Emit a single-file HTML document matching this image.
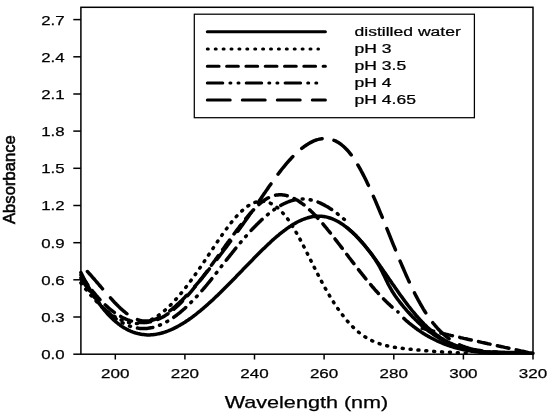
<!DOCTYPE html>
<html><head><meta charset="utf-8"><title>Absorbance vs Wavelength</title>
<style>html,body{margin:0;padding:0;background:#fff}body{width:550px;height:414px;overflow:hidden}</style>
</head><body>
<svg width="550" height="414" viewBox="0 0 550 414" style="display:block">
<rect width="550" height="414" fill="#fff"/>
<defs><clipPath id="c"><rect x="78.9" y="7.3" width="456.1" height="347.9"/></clipPath></defs>
<g clip-path="url(#c)">
<path d="M80.9,282.9 L81.9,284.3 L82.9,285.6 L83.9,286.9 L84.9,288.1 L85.9,289.4 L86.9,290.6 L87.9,291.8 L88.9,293.0 L89.9,294.2 L90.9,295.3 L91.9,296.5 L92.9,297.6 L93.9,298.7 L94.9,299.8 L95.9,300.8 L96.9,301.9 L97.9,302.9 L98.9,303.9 L99.9,304.9 L100.9,305.8 L101.9,306.7 L102.9,307.7 L103.9,308.5 L104.9,309.4 L105.9,310.3 L106.9,311.1 L107.9,311.9 L108.9,312.6 L109.9,313.4 L110.9,314.1 L111.9,314.8 L112.9,315.5 L113.9,316.1 L114.9,316.7 L115.9,317.3 L116.9,317.9 L117.9,318.5 L118.9,319.0 L119.9,319.5 L120.9,319.9 L121.9,320.4 L122.9,320.8 L123.9,321.1 L124.9,321.5 L125.9,321.8 L126.9,322.1 L127.9,322.4 L128.9,322.6 L129.9,322.8 L130.9,323.0 L131.9,323.2 L132.9,323.3 L133.9,323.4 L134.9,323.4 L135.9,323.4 L136.9,323.4 L137.9,323.4 L138.9,323.3 L139.9,323.2 L140.9,323.1 L141.9,322.9 L142.9,322.7 L143.9,322.5 L144.9,322.2 L145.9,321.9 L146.9,321.6 L147.9,321.2 L148.9,320.8 L149.9,320.4 L150.9,319.9 L151.9,319.4 L152.9,318.9 L153.9,318.3 L154.9,317.7 L155.9,317.1 L156.9,316.5 L157.9,315.8 L158.9,315.1 L159.9,314.4 L160.9,313.6 L161.9,312.8 L162.9,312.0 L163.9,311.2 L164.9,310.3 L165.9,309.4 L166.9,308.5 L167.9,307.6 L168.9,306.6 L169.9,305.7 L170.9,304.7 L171.9,303.6 L172.9,302.6 L173.9,301.5 L174.9,300.4 L175.9,299.3 L176.9,298.2 L177.9,297.0 L178.9,295.9 L179.9,294.7 L180.9,293.5 L181.9,292.3 L182.9,291.0 L183.9,289.8 L184.9,288.5 L185.9,287.2 L186.9,285.9 L187.9,284.6 L188.9,283.3 L189.9,282.0 L190.9,280.6 L191.9,279.2 L192.9,277.9 L193.9,276.5 L194.9,275.1 L195.9,273.7 L196.9,272.2 L197.9,270.8 L198.9,269.4 L199.9,267.9 L200.9,266.5 L201.9,265.0 L202.9,263.5 L203.9,262.0 L204.9,260.5 L205.9,259.0 L206.9,257.5 L207.9,256.0 L208.9,254.5 L209.9,253.0 L210.9,251.5 L211.9,250.0 L212.9,248.5 L213.9,247.0 L214.9,245.5 L215.9,244.0 L216.9,242.5 L217.9,241.0 L218.9,239.6 L219.9,238.1 L220.9,236.7 L221.9,235.2 L222.9,233.8 L223.9,232.4 L224.9,231.0 L225.9,229.6 L226.9,228.3 L227.9,226.9 L228.9,225.6 L229.9,224.3 L230.9,223.0 L231.9,221.8 L232.9,220.6 L233.9,219.4 L234.9,218.2 L235.9,217.0 L236.9,215.9 L237.9,214.9 L238.9,213.8 L239.9,212.8 L240.9,211.8 L241.9,210.9 L242.9,210.0 L243.9,209.1 L244.9,208.3 L245.9,207.5 L246.9,206.7 L247.9,206.0 L248.9,205.4 L249.9,204.8 L250.9,204.2 L251.9,203.7 L252.9,203.2 L253.9,202.8 L254.9,202.4 L255.9,202.1 L256.9,201.8 L257.9,201.6 L258.9,201.4 L259.9,201.3 L260.9,201.3 L261.9,201.2 L262.9,201.3 L263.9,201.4 L264.9,201.5 L265.9,201.7 L266.9,202.0 L267.9,202.3 L268.9,202.6 L269.9,203.0 L270.9,203.5 L271.9,204.0 L272.9,204.5 L273.9,205.2 L274.9,205.8 L275.9,206.5 L276.9,207.3 L277.9,208.1 L278.9,209.0 L279.9,209.9 L280.9,210.9 L281.9,212.0 L282.9,213.1 L283.9,214.2 L284.9,215.4 L285.9,216.6 L286.9,217.9 L287.9,219.3 L288.9,220.7 L289.9,222.2 L290.9,223.7 L291.9,225.2 L292.9,226.8 L293.9,228.5 L294.9,230.1 L295.9,231.9 L296.9,233.6 L297.9,235.4 L298.9,237.2 L299.9,239.1 L300.9,240.9 L301.9,242.8 L302.9,244.7 L303.9,246.7 L304.9,248.6 L305.9,250.6 L306.9,252.6 L307.9,254.6 L308.9,256.5 L309.9,258.5 L310.9,260.6 L311.9,262.6 L312.9,264.6 L313.9,266.6 L314.9,268.5 L315.9,270.5 L316.9,272.5 L317.9,274.5 L318.9,276.4 L319.9,278.3 L320.9,280.2 L321.9,282.1 L322.9,284.0 L323.9,285.8 L324.9,287.6 L325.9,289.4 L326.9,291.1 L327.9,292.9 L328.9,294.6 L329.9,296.3 L330.9,297.9 L331.9,299.5 L332.9,301.1 L333.9,302.7 L334.9,304.2 L335.9,305.7 L336.9,307.2 L337.9,308.7 L338.9,310.1 L339.9,311.5 L340.9,312.9 L341.9,314.2 L342.9,315.5 L343.9,316.8 L344.9,318.1 L345.9,319.3 L346.9,320.5 L347.9,321.7 L348.9,322.8 L349.9,323.9 L350.9,325.0 L351.9,326.0 L352.9,327.0 L353.9,328.0 L354.9,328.9 L355.9,329.9 L356.9,330.7 L357.9,331.6 L358.9,332.4 L359.9,333.2 L360.9,334.0 L361.9,334.7 L362.9,335.4 L363.9,336.1 L364.9,336.8 L365.9,337.4 L366.9,338.0 L367.9,338.6 L368.9,339.1 L369.9,339.7 L370.9,340.2 L371.9,340.7 L372.9,341.1 L373.9,341.6 L374.9,342.0 L375.9,342.4 L376.9,342.8 L377.9,343.2 L378.9,343.5 L379.9,343.9 L380.9,344.2 L381.9,344.5 L382.9,344.8 L383.9,345.1 L384.9,345.3 L385.9,345.6 L386.9,345.8 L387.9,346.0 L388.9,346.3 L389.9,346.5 L390.9,346.7 L391.9,346.8 L392.9,347.0 L393.9,347.2 L394.9,347.3 L395.9,347.5 L396.9,347.6 L397.9,347.8 L398.9,347.9 L399.9,348.0 L400.9,348.2 L401.9,348.3 L402.9,348.4 L403.9,348.5 L404.9,348.7 L405.9,348.8 L406.9,348.9 L407.9,349.0 L408.9,349.1 L409.9,349.2 L410.9,349.3 L411.9,349.4 L412.9,349.5 L413.9,349.7 L414.9,349.8 L415.9,349.9 L416.9,350.0 L417.9,350.0 L418.9,350.1 L419.9,350.2 L420.9,350.3 L421.9,350.4 L422.9,350.5 L423.9,350.6 L424.9,350.7 L425.9,350.8 L426.9,350.8 L427.9,350.9 L428.9,351.0 L429.9,351.1 L430.9,351.2 L431.9,351.2 L432.9,351.3 L433.9,351.4 L434.9,351.4 L435.9,351.5 L436.9,351.6 L437.9,351.6 L438.9,351.7 L439.9,351.8 L440.9,351.8 L441.9,351.9 L442.9,352.0 L443.9,352.0 L444.9,352.1 L445.9,352.1 L446.9,352.2 L447.9,352.2 L448.9,352.3 L449.9,352.3 L450.9,352.4 L451.9,352.4 L452.9,352.5 L453.9,352.5 L454.9,352.5 L455.9,352.6 L456.9,352.6 L457.9,352.7 L458.9,352.7 L459.9,352.7 L460.9,352.8 L461.9,352.8 L462.9,352.8 L463.9,352.8 L464.9,352.9 L465.9,352.9 L466.9,352.9 L467.9,353.0 L468.9,353.0 L469.9,353.0 L470.0,353.0" fill="none" stroke="#000" stroke-width="3.5" stroke-linecap="round" stroke-linejoin="round" stroke-dasharray="1.0 6.9"/>
<path d="M80.9,277.9 L81.9,279.5 L82.9,281.1 L83.9,282.7 L84.9,284.2 L85.9,285.7 L86.9,287.1 L87.9,288.6 L88.9,290.0 L89.9,291.4 L90.9,292.8 L91.9,294.1 L92.9,295.4 L93.9,296.7 L94.9,298.0 L95.9,299.2 L96.9,300.5 L97.9,301.7 L98.9,302.8 L99.9,304.0 L100.9,305.1 L101.9,306.2 L102.9,307.2 L103.9,308.3 L104.9,309.3 L105.9,310.2 L106.9,311.2 L107.9,312.1 L108.9,313.0 L109.9,313.9 L110.9,314.8 L111.9,315.6 L112.9,316.4 L113.9,317.2 L114.9,318.0 L115.9,318.7 L116.9,319.4 L117.9,320.1 L118.9,320.7 L119.9,321.3 L120.9,321.9 L121.9,322.5 L122.9,323.0 L123.9,323.6 L124.9,324.1 L125.9,324.5 L126.9,325.0 L127.9,325.4 L128.9,325.8 L129.9,326.1 L130.9,326.5 L131.9,326.8 L132.9,327.1 L133.9,327.3 L134.9,327.6 L135.9,327.8 L136.9,328.0 L137.9,328.1 L138.9,328.3 L139.9,328.4 L140.9,328.4 L141.9,328.5 L142.9,328.5 L143.9,328.5 L144.9,328.5 L145.9,328.4 L146.9,328.4 L147.9,328.3 L148.9,328.1 L149.9,328.0 L150.9,327.8 L151.9,327.6 L152.9,327.4 L153.9,327.1 L154.9,326.8 L155.9,326.5 L156.9,326.2 L157.9,325.8 L158.9,325.5 L159.9,325.1 L160.9,324.6 L161.9,324.2 L162.9,323.7 L163.9,323.2 L164.9,322.7 L165.9,322.2 L166.9,321.6 L167.9,321.1 L168.9,320.5 L169.9,319.8 L170.9,319.2 L171.9,318.5 L172.9,317.9 L173.9,317.2 L174.9,316.4 L175.9,315.7 L176.9,315.0 L177.9,314.2 L178.9,313.4 L179.9,312.6 L180.9,311.7 L181.9,310.9 L182.9,310.0 L183.9,309.2 L184.9,308.3 L185.9,307.3 L186.9,306.4 L187.9,305.5 L188.9,304.5 L189.9,303.5 L190.9,302.5 L191.9,301.5 L192.9,300.5 L193.9,299.5 L194.9,298.4 L195.9,297.3 L196.9,296.3 L197.9,295.2 L198.9,294.1 L199.9,292.9 L200.9,291.8 L201.9,290.7 L202.9,289.5 L203.9,288.3 L204.9,287.2 L205.9,286.0 L206.9,284.8 L207.9,283.5 L208.9,282.3 L209.9,281.1 L210.9,279.9 L211.9,278.6 L212.9,277.3 L213.9,276.1 L214.9,274.8 L215.9,273.5 L216.9,272.3 L217.9,271.0 L218.9,269.7 L219.9,268.4 L220.9,267.1 L221.9,265.8 L222.9,264.6 L223.9,263.3 L224.9,262.0 L225.9,260.7 L226.9,259.4 L227.9,258.1 L228.9,256.9 L229.9,255.6 L230.9,254.3 L231.9,253.1 L232.9,251.8 L233.9,250.6 L234.9,249.3 L235.9,248.1 L236.9,246.9 L237.9,245.7 L238.9,244.5 L239.9,243.3 L240.9,242.1 L241.9,240.9 L242.9,239.7 L243.9,238.6 L244.9,237.4 L245.9,236.3 L246.9,235.1 L247.9,234.0 L248.9,232.9 L249.9,231.8 L250.9,230.7 L251.9,229.6 L252.9,228.6 L253.9,227.5 L254.9,226.5 L255.9,225.5 L256.9,224.4 L257.9,223.5 L258.9,222.5 L259.9,221.5 L260.9,220.6 L261.9,219.6 L262.9,218.7 L263.9,217.8 L264.9,216.9 L265.9,216.1 L266.9,215.2 L267.9,214.4 L268.9,213.6 L269.9,212.8 L270.9,212.0 L271.9,211.2 L272.9,210.5 L273.9,209.8 L274.9,209.1 L275.9,208.4 L276.9,207.7 L277.9,207.1 L278.9,206.5 L279.9,205.9 L280.9,205.3 L281.9,204.8 L282.9,204.2 L283.9,203.7 L284.9,203.3 L285.9,202.8 L286.9,202.4 L287.9,202.0 L288.9,201.6 L289.9,201.2 L290.9,200.9 L291.9,200.6 L292.9,200.3 L293.9,200.0 L294.9,199.8 L295.9,199.6 L296.9,199.4 L297.9,199.3 L298.9,199.2 L299.9,199.1 L300.9,199.0 L301.9,199.0 L302.9,199.0 L303.9,199.0 L304.9,199.1 L305.9,199.2 L306.9,199.3 L307.9,199.4 L308.9,199.6 L309.9,199.7 L310.9,200.0 L311.9,200.2 L312.9,200.5 L313.9,200.7 L314.9,201.0 L315.9,201.4 L316.9,201.7 L317.9,202.1 L318.9,202.5 L319.9,202.9 L320.9,203.4 L321.9,203.9 L322.9,204.4 L323.9,204.9 L324.9,205.4 L325.9,206.0 L326.9,206.5 L327.9,207.1 L328.9,207.7 L329.9,208.4 L330.9,209.0 L331.9,209.7 L332.9,210.4 L333.9,211.1 L334.9,211.8 L335.9,212.5 L336.9,213.3 L337.9,214.1 L338.9,214.9 L339.9,215.7 L340.9,216.5 L341.9,217.3 L342.9,218.2 L343.9,219.1 L344.9,219.9 L345.9,220.8 L346.9,221.7 L347.0,221.8" fill="none" stroke="#000" stroke-width="3.5" stroke-linecap="round" stroke-linejoin="round" stroke-dasharray="15.5 7.1 1.0 7.1 1.0 7.2"/>
<path d="M347.0,227.7 L348.0,228.5 L349.0,229.3 L350.0,230.2 L351.0,231.1 L352.0,232.0 L353.0,232.9 L354.0,233.9 L355.0,234.8 L356.0,235.8 L357.0,236.9 L358.0,237.9 L359.0,239.0 L360.0,240.1 L361.0,241.2 L362.0,242.3 L363.0,243.5 L364.0,244.7 L365.0,245.9 L366.0,247.1 L367.0,248.3 L368.0,249.6 L369.0,250.9 L370.0,252.1 L371.0,253.4 L372.0,254.8 L372.9,256.1 L373.8,257.5 L374.8,258.8 L375.7,260.2 L376.5,261.6 L377.4,263.0 L378.2,264.4 L379.1,265.8 L379.9,267.2 L380.6,268.6 L381.4,270.1 L382.1,271.5 L382.8,272.9 L383.5,274.4 L384.2,275.8 L384.9,277.3 L385.6,278.7 L386.3,280.2 L387.0,281.6 L387.7,283.1 L388.4,284.5 L389.2,286.0 L390.0,287.4 L390.8,288.8 L391.6,290.3 L392.5,291.7 L393.4,293.1 L394.3,294.5 L395.2,295.9 L396.2,297.3 L397.1,298.6 L398.2,300.0 L399.2,301.3 L400.2,302.7 L401.3,304.0 L402.4,305.3 L403.4,306.6 L404.5,307.9 L405.6,309.1 L406.6,310.4 L407.7,311.6 L408.8,312.8 L409.9,314.0 L411.1,315.2 L412.2,316.4 L413.3,317.5 L414.4,318.6 L415.5,319.7 L416.7,320.8 L417.8,321.9 L418.9,322.9 L420.0,324.0 L421.1,325.0 L422.3,325.9 L423.4,326.9 L424.5,327.8 L425.6,328.7 L426.8,329.6 L427.9,330.5 L429.0,331.3 L430.1,332.1 L431.3,332.9 L432.4,333.7 L433.5,334.5 L434.6,335.2 L435.7,335.9 L436.8,336.6 L437.9,337.3 L439.0,337.9 L440.1,338.6 L441.2,339.2 L442.3,339.8 L443.4,340.4 L444.5,340.9 L445.6,341.5 L446.7,342.0 L447.8,342.5 L448.9,343.0 L449.9,343.5 L451.0,343.9 L452.1,344.4 L453.2,344.8 L454.2,345.2 L455.3,345.6 L456.4,346.0 L457.4,346.4 L458.5,346.7 L459.5,347.1 L460.5,347.4 L461.6,347.7 L462.6,348.0 L463.6,348.3 L464.7,348.6 L465.7,348.8 L466.7,349.1 L467.7,349.3 L468.7,349.5 L469.7,349.7 L470.7,350.0 L471.8,350.1 L472.8,350.3 L473.8,350.5 L474.8,350.7 L475.8,350.8 L476.8,351.0 L477.8,351.1 L478.8,351.2 L479.8,351.3 L480.8,351.4 L481.8,351.5 L482.8,351.6 L483.8,351.7 L484.8,351.8 L485.8,351.9 L486.8,352.0 L487.8,352.0 L488.8,352.1 L489.8,352.1 L490.8,352.2 L491.8,352.2 L492.8,352.2 L493.8,352.3 L494.8,352.3 L495.8,352.3 L496.8,352.3 L497.8,352.4 L498.8,352.4 L499.8,352.4 L500.8,352.4 L501.8,352.4 L502.8,352.4 L503.8,352.4 L504.8,352.4" fill="none" stroke="#000" stroke-width="3.5" stroke-linecap="round" stroke-linejoin="round"/>
<path d="M80.9,275.1 L81.9,276.6 L82.9,278.1 L83.9,279.5 L84.9,280.9 L85.9,282.3 L86.9,283.7 L87.9,285.1 L88.9,286.4 L89.9,287.7 L90.9,289.0 L91.9,290.3 L92.9,291.5 L93.9,292.7 L94.9,293.9 L95.9,295.1 L96.9,296.2 L97.9,297.4 L98.9,298.5 L99.9,299.6 L100.9,300.6 L101.9,301.6 L102.9,302.6 L103.9,303.6 L104.9,304.6 L105.9,305.5 L106.9,306.4 L107.9,307.3 L108.9,308.2 L109.9,309.0 L110.9,309.8 L111.9,310.6 L112.9,311.4 L113.9,312.1 L114.9,312.8 L115.9,313.5 L116.9,314.2 L117.9,314.8 L118.9,315.5 L119.9,316.0 L120.9,316.6 L121.9,317.2 L122.9,317.7 L123.9,318.2 L124.9,318.6 L125.9,319.1 L126.9,319.5 L127.9,319.9 L128.9,320.2 L129.9,320.6 L130.9,320.9 L131.9,321.2 L132.9,321.4 L133.9,321.7 L134.9,321.9 L135.9,322.1 L136.9,322.2 L137.9,322.4 L138.9,322.5 L139.9,322.5 L140.9,322.6 L141.9,322.6 L142.9,322.6 L143.9,322.6 L144.9,322.5 L145.9,322.5 L146.9,322.4 L147.9,322.2 L148.9,322.1 L149.9,321.9 L150.9,321.7 L151.9,321.4 L152.9,321.1 L153.9,320.8 L154.9,320.5 L155.9,320.2 L156.9,319.8 L157.9,319.4 L158.9,319.0 L159.9,318.5 L160.9,318.0 L161.9,317.5 L162.9,316.9 L163.9,316.4 L164.9,315.8 L165.9,315.1 L166.9,314.5 L167.9,313.8 L168.9,313.1 L169.9,312.4 L170.9,311.6 L171.9,310.8 L172.9,310.0 L173.9,309.2 L174.9,308.3 L175.9,307.4 L176.9,306.5 L177.9,305.6 L178.9,304.7 L179.9,303.7 L180.9,302.7 L181.9,301.7 L182.9,300.7 L183.9,299.6 L184.9,298.5 L185.9,297.5 L186.9,296.4 L187.9,295.2 L188.9,294.1 L189.9,293.0 L190.9,291.8 L191.9,290.6 L192.9,289.4 L193.9,288.2 L194.9,287.0 L195.9,285.7 L196.9,284.5 L197.9,283.2 L198.9,282.0 L199.9,280.7 L200.9,279.4 L201.9,278.1 L202.9,276.8 L203.9,275.4 L204.9,274.1 L205.9,272.8 L206.9,271.4 L207.9,270.1 L208.9,268.7 L209.9,267.4 L210.9,266.0 L211.9,264.6 L212.9,263.2 L213.9,261.8 L214.9,260.5 L215.9,259.1 L216.9,257.7 L217.9,256.3 L218.9,254.9 L219.9,253.5 L220.9,252.1 L221.9,250.7 L222.9,249.3 L223.9,247.9 L224.9,246.5 L225.9,245.1 L226.9,243.7 L227.9,242.3 L228.9,241.0 L229.9,239.6 L230.9,238.2 L231.9,236.8 L232.9,235.5 L233.9,234.1 L234.9,232.8 L235.9,231.4 L236.9,230.1 L237.9,228.8 L238.9,227.5 L239.9,226.1 L240.9,224.9 L241.9,223.6 L242.9,222.3 L243.9,221.0 L244.9,219.8 L245.9,218.5 L246.9,217.3 L247.9,216.1 L248.9,215.0 L249.9,213.8 L250.9,212.7 L251.9,211.6 L252.9,210.5 L253.9,209.4 L254.9,208.4 L255.9,207.4 L256.9,206.4 L257.9,205.5 L258.9,204.6 L259.9,203.7 L260.9,202.8 L261.9,202.0 L262.9,201.3 L263.9,200.5 L264.9,199.8 L265.9,199.2 L266.9,198.6 L267.9,198.0 L268.9,197.5 L269.9,197.0 L270.9,196.6 L271.9,196.2 L272.9,195.9 L273.9,195.6 L274.9,195.3 L275.9,195.1 L276.9,195.0 L277.9,194.9 L278.9,194.8 L279.9,194.8 L280.9,194.8 L281.9,194.8 L282.9,194.9 L283.9,195.1 L284.9,195.2 L285.9,195.4 L286.9,195.7 L287.9,196.0 L288.9,196.3 L289.9,196.6 L290.9,197.0 L291.9,197.4 L292.9,197.9 L293.9,198.4 L294.9,198.9 L295.9,199.5 L296.9,200.0 L297.9,200.6 L298.9,201.3 L299.9,202.0 L300.9,202.7 L301.9,203.4 L302.9,204.1 L303.9,204.9 L304.9,205.7 L305.9,206.6 L306.9,207.4 L307.9,208.3 L308.9,209.2 L309.9,210.1 L310.9,211.1 L311.9,212.0 L312.9,213.0 L313.9,214.0 L314.9,215.1 L315.9,216.1 L316.9,217.2 L317.9,218.3 L318.9,219.4 L319.9,220.5 L320.9,221.6 L321.9,222.8 L322.9,223.9 L323.9,225.1 L324.9,226.3 L325.9,227.5 L326.9,228.7 L327.9,230.0 L328.9,231.2 L329.9,232.4 L330.9,233.7 L331.9,235.0 L332.9,236.2 L333.9,237.5 L334.9,238.8 L335.9,240.1 L336.9,241.4 L337.9,242.7 L338.9,244.0 L339.9,245.3 L340.9,246.6 L341.9,247.9 L342.9,249.3 L343.9,250.6 L344.9,251.9 L345.9,253.2 L346.9,254.5 L347.9,255.8 L348.9,257.2 L349.9,258.5 L350.9,259.8 L351.9,261.1 L352.9,262.4 L353.9,263.7 L354.9,265.0 L355.9,266.3 L356.9,267.6 L357.9,268.9 L358.9,270.1 L359.9,271.4 L360.9,272.7 L361.9,273.9 L362.9,275.2 L363.9,276.4 L364.9,277.7 L365.9,278.9 L366.9,280.1 L367.9,281.3 L368.9,282.5 L369.9,283.7 L370.9,284.9 L371.9,286.1 L372.9,287.3 L373.9,288.4 L374.9,289.6 L375.9,290.7 L376.9,291.8 L377.9,292.9 L378.9,294.0 L379.9,295.1 L380.9,296.1 L381.9,297.2 L382.9,298.2 L383.9,299.3 L384.9,300.3 L385.9,301.3 L386.9,302.2 L387.9,303.2 L388.9,304.1 L389.9,305.1 L390.9,306.0 L391.9,306.9 L392.9,307.7 L393.9,308.6 L394.9,309.4 L395.9,310.2 L396.9,311.0 L397.9,311.8 L398.0,311.9" fill="none" stroke="#000" stroke-width="3.5" stroke-linecap="round" stroke-linejoin="round" stroke-dasharray="11.8 7.5"/>
<path d="M403.8,318.4 L404.8,319.3 L405.8,320.2 L406.8,321.1 L407.8,321.9 L408.8,322.8 L409.8,323.6 L410.8,324.4 L411.8,325.2 L412.8,326.0 L413.8,326.7 L414.8,327.5 L415.8,328.2 L416.8,329.0 L417.8,329.7 L418.8,330.4 L419.8,331.1 L420.8,331.7 L421.8,332.4 L422.8,333.0 L423.8,333.7 L424.8,334.3 L425.8,334.9 L426.8,335.5 L427.8,336.1 L428.8,336.6 L429.8,337.2 L430.8,337.7 L431.8,338.3 L432.8,338.8 L433.8,339.3 L434.8,339.8 L435.8,340.3 L436.8,340.8 L437.8,341.2 L438.8,341.7 L439.8,342.1 L440.8,342.5 L441.8,343.0 L442.8,343.4 L443.8,343.8 L444.8,344.2 L445.8,344.5 L446.8,344.9 L447.8,345.3 L448.8,345.6 L449.8,346.0 L450.8,346.3 L451.8,346.6 L452.8,346.9 L453.8,347.2 L454.8,347.5 L455.8,347.8 L456.8,348.1 L457.8,348.3 L458.8,348.6 L459.8,348.8 L460.8,349.1 L461.8,349.3 L462.8,349.5 L463.8,349.7 L464.8,349.9 L465.8,350.1 L466.8,350.3 L467.8,350.5 L468.8,350.7 L469.8,350.8 L470.8,351.0 L471.8,351.2 L472.8,351.3 L473.8,351.4 L474.8,351.6 L475.8,351.7 L476.8,351.8 L477.8,351.9 L478.8,352.0 L479.8,352.2 L480.8,352.2 L481.8,352.3 L482.8,352.4 L483.8,352.5 L484.8,352.6 L485.8,352.6 L486.8,352.7 L487.8,352.8 L488.8,352.8 L489.8,352.9 L490.8,352.9 L491.8,352.9 L492.8,353.0 L493.8,353.0 L494.8,353.0 L495.8,353.0 L496.8,353.1 L497.8,353.1 L498.8,353.1 L499.8,353.1 L500.0,353.1" fill="none" stroke="#000" stroke-width="3.5" stroke-linecap="round" stroke-linejoin="round"/>
<path d="M418.8,327.3 L419.8,327.6 L420.8,327.8 L421.8,328.1 L422.8,328.4 L423.8,328.6 L424.8,328.9 L425.8,329.2 L426.8,329.4 L427.8,329.7 L428.8,329.9 L429.8,330.2 L430.8,330.4 L431.8,330.7 L432.8,331.0 L433.8,331.2 L434.8,331.5 L435.8,331.7 L436.8,332.0 L437.8,332.2 L438.8,332.5 L439.8,332.7 L440.8,332.9 L441.8,333.2 L442.8,333.4 L443.8,333.7 L444.8,333.9 L445.8,334.2 L446.8,334.4 L447.8,334.6 L448.8,334.9 L449.8,335.1 L450.8,335.4 L451.8,335.6 L452.8,335.8 L453.8,336.1 L454.8,336.3 L455.8,336.5 L456.8,336.8 L457.8,337.0 L458.8,337.2 L459.8,337.4 L460.8,337.7 L461.8,337.9 L462.8,338.1 L463.8,338.4 L464.8,338.6 L465.8,338.8 L466.8,339.0 L467.8,339.3 L468.8,339.5 L469.8,339.7 L470.8,339.9 L471.8,340.2 L472.8,340.4 L473.8,340.6 L474.8,340.8 L475.8,341.0 L476.8,341.3 L477.8,341.5 L478.8,341.7 L479.8,341.9 L480.8,342.1 L481.8,342.4 L482.8,342.6 L483.8,342.8 L484.8,343.0 L485.8,343.2 L486.8,343.4 L487.8,343.7 L488.8,343.9 L489.8,344.1 L490.8,344.3 L491.8,344.5 L492.8,344.8 L493.8,345.0 L494.8,345.2 L495.8,345.4 L496.8,345.6 L497.8,345.8 L498.8,346.1 L499.8,346.3 L500.8,346.5 L501.8,346.7 L502.8,346.9 L503.8,347.1 L504.8,347.4 L505.8,347.6 L506.8,347.8 L507.8,348.0 L508.8,348.2 L509.8,348.4 L510.8,348.7 L511.8,348.9 L512.8,349.1 L513.8,349.3 L514.8,349.5 L515.8,349.8 L516.8,350.0 L517.8,350.2 L518.8,350.4 L519.8,350.6 L520.8,350.9 L521.8,351.1 L522.8,351.3 L523.8,351.5 L524.8,351.7 L525.8,352.0 L526.8,352.2 L527.8,352.4 L528.8,352.6 L529.8,352.9 L530.8,353.1 L531.8,353.3 L532.8,353.5 L533.0,353.6" fill="none" stroke="#000" stroke-width="3.5" stroke-linecap="round" stroke-linejoin="round" stroke-dasharray="11.8 7.5" stroke-dashoffset="-3.6"/>
<path d="M87.4,271.6 L88.4,272.6 L89.4,273.7 L90.4,274.8 L91.4,275.9 L92.4,277.1 L93.4,278.2 L94.4,279.3 L95.4,280.5 L96.4,281.7 L97.4,282.8 L98.4,284.0 L99.4,285.2 L100.4,286.3 L101.4,287.5 L102.4,288.7 L103.4,289.8 L104.4,291.0 L105.4,292.2 L106.4,293.3 L107.4,294.5 L108.4,295.6 L109.4,296.7 L110.4,297.8 L111.4,298.9 L112.4,300.0 L113.4,301.1 L114.4,302.2 L115.4,303.2 L116.4,304.3 L117.4,305.3 L118.4,306.3 L119.4,307.2 L120.4,308.2 L121.4,309.1 L122.4,310.0 L123.4,310.9 L124.4,311.7 L125.4,312.5 L126.4,313.3 L127.4,314.1 L128.4,314.8 L129.4,315.5 L130.4,316.1 L131.4,316.8 L132.4,317.3 L133.4,317.9 L134.4,318.4 L135.4,318.8 L136.4,319.3 L137.4,319.6 L138.4,320.0 L139.4,320.3 L140.4,320.5 L141.4,320.7 L142.4,320.9 L143.4,321.0 L144.4,321.0 L145.4,321.1 L146.4,321.1 L147.4,321.0 L148.4,320.9 L149.4,320.8 L150.4,320.6 L151.4,320.4 L152.4,320.2 L153.4,319.9 L154.4,319.6 L155.4,319.2 L156.4,318.8 L157.4,318.4 L158.4,318.0 L159.4,317.5 L160.4,317.0 L161.4,316.4 L162.4,315.9 L163.4,315.3 L164.4,314.6 L165.4,314.0 L166.4,313.3 L167.4,312.6 L168.4,311.9 L169.4,311.2 L170.4,310.4 L171.4,309.6 L172.4,308.8 L173.4,307.9 L174.4,307.1 L175.4,306.2 L176.4,305.3 L177.4,304.4 L178.4,303.5 L179.4,302.6 L180.4,301.6 L181.4,300.7 L182.4,299.7 L183.4,298.7 L184.4,297.7 L185.4,296.6 L186.4,295.6 L187.4,294.6 L188.4,293.5 L189.4,292.4 L190.4,291.4 L191.4,290.3 L192.4,289.2 L193.4,288.0 L194.4,286.9 L195.4,285.8 L196.4,284.6 L197.4,283.5 L198.4,282.3 L199.4,281.1 L200.4,279.9 L201.4,278.8 L202.4,277.6 L203.4,276.3 L204.4,275.1 L205.4,273.9 L206.4,272.7 L207.4,271.4 L208.4,270.2 L209.4,268.9 L210.4,267.7 L211.4,266.4 L212.4,265.1 L213.4,263.9 L214.4,262.6 L215.4,261.3 L216.4,260.0 L217.4,258.7 L218.4,257.4 L219.4,256.1 L220.4,254.8 L221.4,253.5 L222.4,252.2 L223.4,250.8 L224.4,249.5 L225.4,248.2 L226.4,246.9 L227.4,245.5 L228.4,244.2 L229.4,242.8 L230.4,241.5 L231.4,240.1 L232.4,238.8 L233.4,237.4 L234.4,236.0 L235.4,234.7 L236.4,233.3 L237.4,231.9 L238.4,230.5 L239.4,229.1 L240.4,227.7 L241.4,226.3 L242.4,224.9 L243.4,223.5 L244.4,222.1 L245.4,220.7 L246.4,219.3 L247.4,217.9 L248.4,216.5 L249.4,215.0 L250.4,213.6 L251.4,212.2 L252.4,210.8 L253.4,209.3 L254.4,207.9 L255.4,206.4 L256.4,205.0 L257.4,203.5 L258.4,202.1 L259.4,200.6 L260.4,199.2 L261.4,197.7 L262.4,196.2 L263.4,194.8 L264.4,193.3 L265.4,191.9 L266.4,190.4 L267.4,189.0 L268.4,187.5 L269.4,186.1 L270.4,184.7 L271.4,183.3 L272.4,181.9 L273.4,180.5 L274.4,179.1 L275.4,177.7 L276.4,176.4 L277.4,175.0 L278.4,173.7 L279.4,172.4 L280.4,171.1 L281.4,169.8 L282.4,168.5 L283.4,167.3 L284.4,166.1 L285.4,164.9 L286.4,163.7 L287.4,162.5 L288.4,161.4 L289.4,160.3 L290.4,159.2 L291.4,158.1 L292.4,157.1 L293.4,156.0 L294.4,155.0 L295.4,154.1 L296.4,153.1 L297.4,152.2 L298.4,151.3 L299.4,150.4 L300.4,149.6 L301.4,148.7 L302.4,147.9 L303.4,147.2 L304.4,146.4 L305.4,145.7 L306.4,145.0 L307.4,144.4 L308.4,143.8 L309.4,143.2 L310.4,142.6 L311.4,142.1 L312.4,141.6 L313.4,141.1 L314.4,140.7 L315.4,140.3 L316.4,140.0 L317.4,139.6 L318.4,139.4 L319.4,139.1 L320.4,138.9 L321.4,138.8 L322.4,138.6 L323.4,138.6 L324.4,138.5 L325.4,138.5 L326.4,138.5 L327.4,138.6 L328.4,138.8 L329.4,138.9 L330.4,139.1 L331.4,139.4 L332.4,139.7 L333.4,140.1 L334.4,140.5 L335.4,140.9 L336.4,141.4 L337.4,142.0 L338.4,142.6 L339.4,143.2 L340.4,143.9 L341.4,144.7 L342.4,145.5 L343.4,146.3 L344.4,147.2 L345.4,148.2 L346.4,149.2 L347.4,150.3 L348.4,151.4 L349.4,152.6 L350.4,153.9 L351.4,155.2 L352.4,156.5 L353.4,157.9 L354.4,159.4 L355.4,161.0 L356.4,162.5 L357.4,164.2 L358.4,165.9 L359.4,167.6 L360.4,169.4 L361.4,171.3 L362.4,173.1 L363.4,175.1 L364.4,177.0 L365.4,179.0 L366.4,181.1 L367.4,183.2 L368.4,185.3 L369.4,187.4 L370.4,189.6 L371.4,191.8 L372.4,194.0 L373.4,196.3 L374.4,198.6 L375.4,200.9 L376.4,203.2 L377.4,205.6 L378.4,208.0 L379.4,210.4 L380.4,212.8 L381.4,215.2 L382.4,217.6 L383.4,220.1 L384.4,222.5 L385.4,225.0 L386.4,227.5 L387.4,229.9 L388.4,232.4 L389.4,234.9 L390.4,237.4 L391.4,239.8 L392.4,242.3 L393.4,244.8 L394.4,247.2 L395.4,249.7 L396.4,252.1 L397.4,254.5 L398.4,257.0 L399.4,259.4 L400.4,261.8 L401.4,264.1 L402.4,266.5 L403.4,268.8 L404.4,271.1 L405.4,273.4 L406.4,275.7 L407.4,277.9 L408.4,280.1 L409.4,282.3 L410.4,284.5 L411.4,286.6 L412.4,288.7 L413.4,290.7 L414.4,292.7 L415.4,294.7 L416.4,296.6 L417.4,298.5 L418.4,300.4 L419.4,302.2 L420.4,304.0 L421.4,305.7 L422.4,307.4 L423.4,309.1 L424.4,310.7 L425.4,312.3 L426.4,313.8 L427.4,315.3 L428.4,316.8 L429.4,318.2 L430.4,319.6 L431.4,320.9 L432.4,322.2 L433.4,323.5 L434.4,324.7 L435.4,325.9 L436.4,327.0 L437.4,328.2 L438.4,329.2 L439.4,330.3 L440.4,331.3 L441.4,332.3 L442.4,333.2 L443.4,334.1 L444.4,335.0 L445.4,335.9 L446.4,336.7 L447.4,337.5 L448.4,338.2 L449.4,338.9 L450.4,339.6 L451.4,340.3 L452.4,341.0 L453.4,341.6 L454.4,342.2 L455.4,342.7 L456.4,343.3 L457.4,343.8 L458.4,344.3 L459.4,344.8 L460.4,345.2 L461.4,345.7 L462.4,346.1 L463.4,346.5 L464.4,346.8 L465.4,347.2 L466.4,347.5 L467.4,347.8 L468.4,348.1 L469.4,348.4 L470.4,348.7 L471.4,348.9 L472.4,349.2 L473.4,349.4 L474.4,349.6 L475.4,349.8 L476.4,350.0 L477.4,350.2 L478.4,350.3 L479.4,350.5 L480.4,350.6 L481.4,350.8 L482.4,350.9 L483.4,351.0 L484.4,351.1 L485.4,351.3 L486.4,351.4 L487.4,351.5 L488.4,351.5 L489.4,351.6 L490.4,351.7 L491.4,351.8 L492.4,351.9 L493.4,352.0 L494.4,352.1 L495.4,352.1 L496.4,352.2 L497.4,352.3 L498.4,352.4 L499.4,352.5 L500.0,352.5" fill="none" stroke="#000" stroke-width="3.5" stroke-linecap="round" stroke-linejoin="round" stroke-dasharray="22.9 12.1"/>
<path d="M80.9,272.6 L81.9,274.6 L82.9,276.6 L83.9,278.5 L84.9,280.4 L85.9,282.2 L86.9,284.0 L87.9,285.8 L88.9,287.6 L89.9,289.3 L90.9,291.0 L91.9,292.6 L92.9,294.2 L93.9,295.8 L94.9,297.3 L95.9,298.8 L96.9,300.3 L97.9,301.7 L98.9,303.1 L99.9,304.4 L100.9,305.8 L101.9,307.1 L102.9,308.3 L103.9,309.6 L104.9,310.8 L105.9,311.9 L106.9,313.1 L107.9,314.2 L108.9,315.2 L109.9,316.3 L110.9,317.3 L111.9,318.3 L112.9,319.2 L113.9,320.1 L114.9,321.0 L115.9,321.9 L116.9,322.7 L117.9,323.5 L118.9,324.2 L119.9,325.0 L120.9,325.7 L121.9,326.4 L122.9,327.0 L123.9,327.7 L124.9,328.3 L125.9,328.8 L126.9,329.4 L127.9,329.9 L128.9,330.4 L129.9,330.8 L130.9,331.3 L131.9,331.7 L132.9,332.1 L133.9,332.4 L134.9,332.8 L135.9,333.1 L136.9,333.3 L137.9,333.6 L138.9,333.8 L139.9,334.0 L140.9,334.2 L141.9,334.4 L142.9,334.5 L143.9,334.6 L144.9,334.7 L145.9,334.8 L146.9,334.9 L147.9,334.9 L148.9,334.9 L149.9,334.9 L150.9,334.8 L151.9,334.8 L152.9,334.7 L153.9,334.6 L154.9,334.4 L155.9,334.3 L156.9,334.1 L157.9,333.9 L158.9,333.7 L159.9,333.5 L160.9,333.3 L161.9,333.0 L162.9,332.7 L163.9,332.4 L164.9,332.1 L165.9,331.7 L166.9,331.4 L167.9,331.0 L168.9,330.6 L169.9,330.2 L170.9,329.8 L171.9,329.3 L172.9,328.9 L173.9,328.4 L174.9,327.9 L175.9,327.4 L176.9,326.9 L177.9,326.3 L178.9,325.8 L179.9,325.2 L180.9,324.6 L181.9,324.0 L182.9,323.4 L183.9,322.8 L184.9,322.2 L185.9,321.5 L186.9,320.8 L187.9,320.2 L188.9,319.5 L189.9,318.8 L190.9,318.1 L191.9,317.3 L192.9,316.6 L193.9,315.8 L194.9,315.1 L195.9,314.3 L196.9,313.5 L197.9,312.7 L198.9,311.9 L199.9,311.1 L200.9,310.3 L201.9,309.4 L202.9,308.6 L203.9,307.7 L204.9,306.9 L205.9,306.0 L206.9,305.1 L207.9,304.2 L208.9,303.3 L209.9,302.4 L210.9,301.5 L211.9,300.6 L212.9,299.7 L213.9,298.7 L214.9,297.8 L215.9,296.8 L216.9,295.9 L217.9,294.9 L218.9,293.9 L219.9,293.0 L220.9,292.0 L221.9,291.0 L222.9,290.0 L223.9,289.0 L224.9,288.0 L225.9,287.0 L226.9,286.0 L227.9,285.0 L228.9,284.0 L229.9,283.0 L230.9,282.0 L231.9,281.0 L232.9,279.9 L233.9,278.9 L234.9,277.9 L235.9,276.9 L236.9,275.8 L237.9,274.8 L238.9,273.8 L239.9,272.7 L240.9,271.7 L241.9,270.7 L242.9,269.6 L243.9,268.6 L244.9,267.6 L245.9,266.5 L246.9,265.5 L247.9,264.5 L248.9,263.5 L249.9,262.4 L250.9,261.4 L251.9,260.4 L252.9,259.4 L253.9,258.3 L254.9,257.3 L255.9,256.3 L256.9,255.3 L257.9,254.3 L258.9,253.3 L259.9,252.3 L260.9,251.3 L261.9,250.3 L262.9,249.3 L263.9,248.4 L264.9,247.4 L265.9,246.4 L266.9,245.5 L267.9,244.5 L268.9,243.6 L269.9,242.7 L270.9,241.7 L271.9,240.8 L272.9,239.9 L273.9,239.0 L274.9,238.2 L275.9,237.3 L276.9,236.4 L277.9,235.6 L278.9,234.8 L279.9,233.9 L280.9,233.1 L281.9,232.3 L282.9,231.6 L283.9,230.8 L284.9,230.1 L285.9,229.3 L286.9,228.6 L287.9,227.9 L288.9,227.2 L289.9,226.5 L290.9,225.9 L291.9,225.2 L292.9,224.6 L293.9,224.0 L294.9,223.4 L295.9,222.9 L296.9,222.3 L297.9,221.8 L298.9,221.3 L299.9,220.8 L300.9,220.4 L301.9,219.9 L302.9,219.5 L303.9,219.1 L304.9,218.8 L305.9,218.4 L306.9,218.1 L307.9,217.8 L308.9,217.5 L309.9,217.2 L310.9,217.0 L311.9,216.8 L312.9,216.6 L313.9,216.5 L314.9,216.4 L315.9,216.3 L316.9,216.2 L317.9,216.2 L318.9,216.2 L319.9,216.2 L320.9,216.2 L321.9,216.3 L322.9,216.4 L323.9,216.5 L324.9,216.7 L325.9,216.9 L326.9,217.1 L327.9,217.4 L328.9,217.7 L329.9,218.0 L330.9,218.3 L331.9,218.7 L332.9,219.1 L333.9,219.5 L334.9,220.0 L335.9,220.5 L336.9,221.0 L337.9,221.5 L338.9,222.1 L339.9,222.7 L340.9,223.3 L341.9,224.0 L342.9,224.6 L343.9,225.3 L344.9,226.1 L345.9,226.8 L346.9,227.6 L347.9,228.4 L348.9,229.2 L349.9,230.1 L350.9,231.0 L351.9,231.9 L352.9,232.8 L353.9,233.8 L354.9,234.7 L355.9,235.7 L356.9,236.8 L357.9,237.8 L358.9,238.9 L359.9,240.0 L360.9,241.1 L361.9,242.2 L362.9,243.4 L363.9,244.5 L364.9,245.7 L365.9,247.0 L366.9,248.2 L367.9,249.5 L368.9,250.7 L369.9,252.0 L370.9,253.3 L371.9,254.6 L372.9,256.0 L373.9,257.3 L374.9,258.7 L375.9,260.1 L376.9,261.4 L377.9,262.8 L378.9,264.2 L379.9,265.6 L380.9,267.1 L381.9,268.5 L382.9,269.9 L383.9,271.4 L384.9,272.8 L385.9,274.2 L386.9,275.7 L387.9,277.1 L388.9,278.6 L389.9,280.1 L390.9,281.5 L391.9,283.0 L392.9,284.4 L393.9,285.8 L394.9,287.3 L395.9,288.7 L396.9,290.1 L397.9,291.6 L398.9,293.0 L399.9,294.4 L400.9,295.8 L401.9,297.1 L402.9,298.5 L403.9,299.9 L404.9,301.2 L405.9,302.5 L406.9,303.9 L407.9,305.2 L408.9,306.5 L409.9,307.7 L410.9,309.0 L411.9,310.3 L412.9,311.5 L413.9,312.7 L414.9,313.9 L415.9,315.1 L416.9,316.3 L417.9,317.4 L418.9,318.5 L419.9,319.6 L420.9,320.7 L421.9,321.8 L422.9,322.8 L423.9,323.9 L424.9,324.9 L425.9,325.8 L426.9,326.8 L427.9,327.7 L428.9,328.6 L429.9,329.5 L430.9,330.4 L431.9,331.2 L432.9,332.1 L433.9,332.9 L434.9,333.6 L435.9,334.4 L436.9,335.1 L437.9,335.8 L438.9,336.5 L439.9,337.2 L440.9,337.9 L441.9,338.5 L442.9,339.1 L443.9,339.7 L444.9,340.3 L445.9,340.9 L446.9,341.4 L447.9,342.0 L448.9,342.5 L449.9,343.0 L450.9,343.4 L451.9,343.9 L452.9,344.3 L453.9,344.8 L454.9,345.2 L455.9,345.6 L456.9,346.0 L457.9,346.3 L458.9,346.7 L459.9,347.0 L460.9,347.4 L461.9,347.7 L462.9,348.0 L463.9,348.3 L464.9,348.5 L465.9,348.8 L466.9,349.0 L467.9,349.3 L468.9,349.5 L469.9,349.7 L470.9,349.9 L471.9,350.1 L472.9,350.3 L473.9,350.5 L474.9,350.6 L475.9,350.8 L476.9,350.9 L477.9,351.1 L478.9,351.2 L479.9,351.3 L480.9,351.4 L481.9,351.5 L482.9,351.6 L483.9,351.7 L484.9,351.8 L485.9,351.9 L486.9,351.9 L487.9,352.0 L488.9,352.1 L489.9,352.1 L490.9,352.2 L491.9,352.2 L492.9,352.2 L493.9,352.3 L494.9,352.3 L495.9,352.3 L496.9,352.3 L497.9,352.4 L498.9,352.4 L499.9,352.4 L500.9,352.4 L501.9,352.4 L502.9,352.4 L503.9,352.4 L504.9,352.4 L505.9,352.4 L506.9,352.4 L507.9,352.4 L508.9,352.4 L509.9,352.4 L510.9,352.4 L511.9,352.4 L512.9,352.4 L513.9,352.4 L514.9,352.4 L515.9,352.5 L516.9,352.5 L517.9,352.5 L518.9,352.5 L519.9,352.5 L520.9,352.5 L521.9,352.6 L522.9,352.6 L523.9,352.6 L524.9,352.7 L525.9,352.7 L526.9,352.8 L527.9,352.8 L528.9,352.9 L529.9,352.9 L530.9,353.0 L531.9,353.1 L532.9,353.2 L533.0,353.2" fill="none" stroke="#000" stroke-width="3.5" stroke-linecap="round" stroke-linejoin="round"/>
</g>
<rect x="80.9" y="7.3" width="452.1" height="346.9" fill="none" stroke="#000" stroke-width="1.5"/>
<line x1="73.3" y1="354.2" x2="80.9" y2="354.2" stroke="#000" stroke-width="1.5"/>
<text x="64.6" y="359.1" text-anchor="end" font-family="Liberation Sans, Arial, sans-serif" stroke="#000" stroke-width="0.25" font-size="13.3" textLength="23.4" lengthAdjust="spacingAndGlyphs">0.0</text>
<line x1="73.3" y1="317.0" x2="80.9" y2="317.0" stroke="#000" stroke-width="1.5"/>
<text x="64.6" y="321.9" text-anchor="end" font-family="Liberation Sans, Arial, sans-serif" stroke="#000" stroke-width="0.25" font-size="13.3" textLength="23.4" lengthAdjust="spacingAndGlyphs">0.3</text>
<line x1="73.3" y1="279.8" x2="80.9" y2="279.8" stroke="#000" stroke-width="1.5"/>
<text x="64.6" y="284.7" text-anchor="end" font-family="Liberation Sans, Arial, sans-serif" stroke="#000" stroke-width="0.25" font-size="13.3" textLength="23.4" lengthAdjust="spacingAndGlyphs">0.6</text>
<line x1="73.3" y1="242.7" x2="80.9" y2="242.7" stroke="#000" stroke-width="1.5"/>
<text x="64.6" y="247.6" text-anchor="end" font-family="Liberation Sans, Arial, sans-serif" stroke="#000" stroke-width="0.25" font-size="13.3" textLength="23.4" lengthAdjust="spacingAndGlyphs">0.9</text>
<line x1="73.3" y1="205.5" x2="80.9" y2="205.5" stroke="#000" stroke-width="1.5"/>
<text x="64.6" y="210.4" text-anchor="end" font-family="Liberation Sans, Arial, sans-serif" stroke="#000" stroke-width="0.25" font-size="13.3" textLength="23.4" lengthAdjust="spacingAndGlyphs">1.2</text>
<line x1="73.3" y1="168.3" x2="80.9" y2="168.3" stroke="#000" stroke-width="1.5"/>
<text x="64.6" y="173.2" text-anchor="end" font-family="Liberation Sans, Arial, sans-serif" stroke="#000" stroke-width="0.25" font-size="13.3" textLength="23.4" lengthAdjust="spacingAndGlyphs">1.5</text>
<line x1="73.3" y1="131.1" x2="80.9" y2="131.1" stroke="#000" stroke-width="1.5"/>
<text x="64.6" y="136.0" text-anchor="end" font-family="Liberation Sans, Arial, sans-serif" stroke="#000" stroke-width="0.25" font-size="13.3" textLength="23.4" lengthAdjust="spacingAndGlyphs">1.8</text>
<line x1="73.3" y1="94.0" x2="80.9" y2="94.0" stroke="#000" stroke-width="1.5"/>
<text x="64.6" y="98.9" text-anchor="end" font-family="Liberation Sans, Arial, sans-serif" stroke="#000" stroke-width="0.25" font-size="13.3" textLength="23.4" lengthAdjust="spacingAndGlyphs">2.1</text>
<line x1="73.3" y1="56.8" x2="80.9" y2="56.8" stroke="#000" stroke-width="1.5"/>
<text x="64.6" y="61.7" text-anchor="end" font-family="Liberation Sans, Arial, sans-serif" stroke="#000" stroke-width="0.25" font-size="13.3" textLength="23.4" lengthAdjust="spacingAndGlyphs">2.4</text>
<line x1="73.3" y1="19.6" x2="80.9" y2="19.6" stroke="#000" stroke-width="1.5"/>
<text x="64.6" y="24.5" text-anchor="end" font-family="Liberation Sans, Arial, sans-serif" stroke="#000" stroke-width="0.25" font-size="13.3" textLength="23.4" lengthAdjust="spacingAndGlyphs">2.7</text>
<line x1="115.3" y1="354.2" x2="115.3" y2="359.5" stroke="#000" stroke-width="1.5"/>
<text x="101.1" y="378.3" font-family="Liberation Sans, Arial, sans-serif" stroke="#000" stroke-width="0.25" font-size="13.3" textLength="28.4" lengthAdjust="spacingAndGlyphs">200</text>
<line x1="184.9" y1="354.2" x2="184.9" y2="359.5" stroke="#000" stroke-width="1.5"/>
<text x="170.7" y="378.3" font-family="Liberation Sans, Arial, sans-serif" stroke="#000" stroke-width="0.25" font-size="13.3" textLength="28.4" lengthAdjust="spacingAndGlyphs">220</text>
<line x1="254.5" y1="354.2" x2="254.5" y2="359.5" stroke="#000" stroke-width="1.5"/>
<text x="240.3" y="378.3" font-family="Liberation Sans, Arial, sans-serif" stroke="#000" stroke-width="0.25" font-size="13.3" textLength="28.4" lengthAdjust="spacingAndGlyphs">240</text>
<line x1="324.1" y1="354.2" x2="324.1" y2="359.5" stroke="#000" stroke-width="1.5"/>
<text x="309.9" y="378.3" font-family="Liberation Sans, Arial, sans-serif" stroke="#000" stroke-width="0.25" font-size="13.3" textLength="28.4" lengthAdjust="spacingAndGlyphs">260</text>
<line x1="393.8" y1="354.2" x2="393.8" y2="359.5" stroke="#000" stroke-width="1.5"/>
<text x="379.6" y="378.3" font-family="Liberation Sans, Arial, sans-serif" stroke="#000" stroke-width="0.25" font-size="13.3" textLength="28.4" lengthAdjust="spacingAndGlyphs">280</text>
<line x1="463.4" y1="354.2" x2="463.4" y2="359.5" stroke="#000" stroke-width="1.5"/>
<text x="449.2" y="378.3" font-family="Liberation Sans, Arial, sans-serif" stroke="#000" stroke-width="0.25" font-size="13.3" textLength="28.4" lengthAdjust="spacingAndGlyphs">300</text>
<line x1="533.0" y1="354.2" x2="533.0" y2="359.5" stroke="#000" stroke-width="1.5"/>
<text x="518.8" y="378.3" font-family="Liberation Sans, Arial, sans-serif" stroke="#000" stroke-width="0.25" font-size="13.3" textLength="28.4" lengthAdjust="spacingAndGlyphs">320</text>
<text x="224.7" y="408.1" font-family="Liberation Sans, Arial, sans-serif" stroke="#000" stroke-width="0.25" font-size="16.4" textLength="163.6" lengthAdjust="spacingAndGlyphs">Wavelength (nm)</text>
<text transform="translate(15.0,224) rotate(-90)" font-family="Liberation Sans, Arial, sans-serif" stroke="#000" stroke-width="0.55" font-size="16.3" textLength="88.7" lengthAdjust="spacingAndGlyphs">Absorbance</text>
<rect x="194.3" y="14.2" width="280.09999999999997" height="103.5" fill="#fff" stroke="#000" stroke-width="1.25"/>
<path d="M207.3,31.7 L325.40000000000003,31.7" fill="none" stroke="#000" stroke-width="3.0" stroke-linecap="round" stroke-linejoin="round"/>
<text x="0" y="0" transform="translate(354.5,35.6) scale(1.32,1)" font-family="Liberation Sans, Arial, sans-serif" stroke="#000" stroke-width="0.25" font-size="13.3">distilled water</text>
<path d="M207.3,49.1 L318.5,49.1" fill="none" stroke="#000" stroke-width="3.0" stroke-linecap="round" stroke-linejoin="round" stroke-dasharray="1.0 6.9"/>
<text x="0" y="0" transform="translate(354.5,53.0) scale(1.32,1)" font-family="Liberation Sans, Arial, sans-serif" stroke="#000" stroke-width="0.25" font-size="13.3">pH 3</text>
<path d="M207.3,66.2 L325.40000000000003,66.2" fill="none" stroke="#000" stroke-width="3.0" stroke-linecap="round" stroke-linejoin="round" stroke-dasharray="11.8 7.5"/>
<text x="0" y="0" transform="translate(354.5,70.1) scale(1.32,1)" font-family="Liberation Sans, Arial, sans-serif" stroke="#000" stroke-width="0.25" font-size="13.3">pH 3.5</text>
<path d="M207.3,83.1 L317.9,83.1" fill="none" stroke="#000" stroke-width="3.0" stroke-linecap="round" stroke-linejoin="round" stroke-dasharray="15.5 7.1 1.0 7.1 1.0 7.2"/>
<text x="0" y="0" transform="translate(354.5,87.0) scale(1.32,1)" font-family="Liberation Sans, Arial, sans-serif" stroke="#000" stroke-width="0.25" font-size="13.3">pH 4</text>
<path d="M207.3,100.1 L325.40000000000003,100.1" fill="none" stroke="#000" stroke-width="3.0" stroke-linecap="round" stroke-linejoin="round" stroke-dasharray="22.9 12.1"/>
<text x="0" y="0" transform="translate(354.5,104.0) scale(1.32,1)" font-family="Liberation Sans, Arial, sans-serif" stroke="#000" stroke-width="0.25" font-size="13.3">pH 4.65</text>
</svg>
</body></html>
